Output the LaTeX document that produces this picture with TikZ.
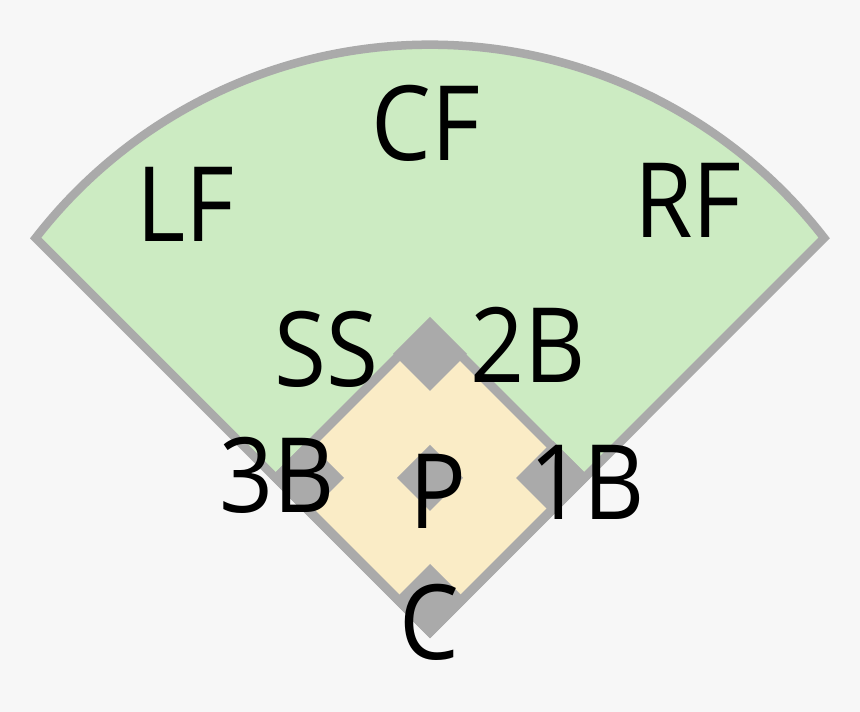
\documentclass[tikz,border=0pt]{standalone}
\usepackage{fontspec}
\setmainfont{Open Sans}
\definecolor{bgc}{RGB}{247,247,247}
\definecolor{fieldgreen}{RGB}{204,235,194}
\definecolor{infieldyellow}{RGB}{250,236,198}
\definecolor{linegray}{RGB}{170,170,170}
\newcommand{\narrowlbl}[1]{\scalebox{0.91}[1]{#1}}
\begin{document}
\begin{tikzpicture}[x=1pt,y=1pt,
  fan/.style={fill=fieldgreen,draw=linegray,line width=8.5pt,line join=miter},
  infield/.style={fill=infieldyellow,draw=linegray,line width=9pt,line join=miter},
  basesq/.style={fill=linegray},
  poslabel/.style={anchor=base,inner sep=0pt,text=black,font=\fontsize{104}{104}\selectfont}]
\useasboundingbox (0,0) rectangle (860,712);
\fill[bgc] (0,0) rectangle (860,712);
% outfield fan
\draw[fan] (430,79.7) -- (35.7,474) arc[start angle=142.24,end angle=37.76,radius=498.7] -- cycle;
% infield diamond
\draw[infield] (430,80.4) -- (583.6,234) -- (430,387.6) -- (276.4,234) -- cycle;
% bases
\fill[basesq] (430,395) -- (467,358) -- (430,321) -- (393,358) -- cycle;
\fill[basesq] (430,148) -- (467,111) -- (430,74) -- (393,111) -- cycle;
\fill[basesq] (307,271) -- (344,234) -- (307,197) -- (270,234) -- cycle;
\fill[basesq] (553,271) -- (590,234) -- (553,197) -- (516,234) -- cycle;
\fill[basesq] (430,267) -- (463,234) -- (430,201) -- (397,234) -- cycle;
% labels
\node[poslabel] (cf) at (426,551) {\narrowlbl{CF}};
\node[poslabel] (lf) at (185,470.3) {\narrowlbl{LF}};
\node[poslabel] (rf) at (688,474.3) {\narrowlbl{RF}};
\node[poslabel] (ss) at (326.5,325) {\narrowlbl{SS}};
\node[poslabel] (sb) at (528.5,329) {\narrowlbl{2B}};
\node[poslabel] (tb) at (277,199.3) {\narrowlbl{3B}};
\node[poslabel] (fb) at (587.5,192) {\narrowlbl{1B}};
\node[poslabel] (p) at (438,183) {\narrowlbl{P}};
\node[poslabel] (c) at (429,52) {\narrowlbl{C}};
\end{tikzpicture}
\end{document}
